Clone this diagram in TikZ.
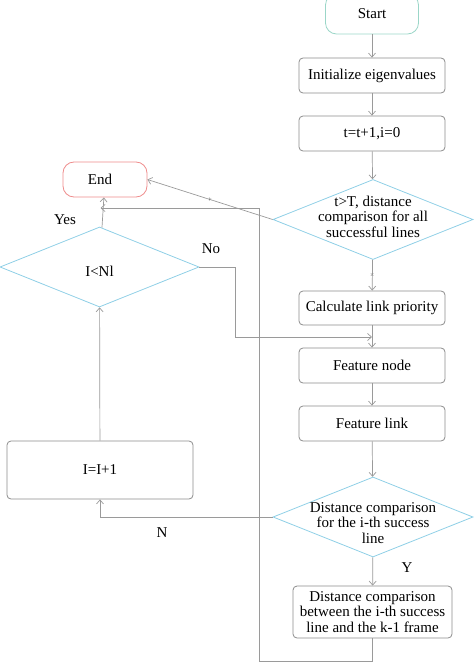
\documentclass[tikz,border=0pt]{standalone}
\usepackage{fontspec}
\setmainfont{Liberation Serif}
\usetikzlibrary{shapes.geometric,arrows.meta}
\definecolor{linegray}{HTML}{9A9A9A}
\definecolor{boxgray}{HTML}{8C8C8C}
\definecolor{diamblue}{HTML}{8FCFE6}
\definecolor{startteal}{HTML}{9BD6C8}
\definecolor{endred}{HTML}{EE8C8C}

\begin{document}
\begin{tikzpicture}[x=1pt, y=-1pt,
  every node/.style={font=\fontsize{15}{15.5}\selectfont},
  procbox/.style={draw=boxgray, line width=0.8pt, rounded corners=4pt,
    minimum width=146pt, minimum height=35pt, inner sep=0pt, align=center},
  termbox/.style={draw, line width=0.8pt, rounded corners=11pt, inner sep=0pt},
  decision/.style={diamond, draw=diamblue, line width=0.8pt, inner sep=0pt,
    minimum width=200pt, minimum height=80pt},
  flow/.style={draw=linegray, line width=0.7pt,
    -{Straight Barb[length=4pt,width=7pt]}},
  tinytag/.style={font=\fontsize{4}{4}\selectfont, text=black!70, inner sep=0pt}]
  \useasboundingbox (0,0) rectangle (474,663);

  % Right column: main flow
  \node[termbox, draw=startteal, minimum width=93pt, minimum height=40pt]
    (start) at (372,14) {Start};
  \node[procbox] (init) at (372,75.5) {Initialize eigenvalues};
  \node[procbox] (tt) at (372,133.5) {t=t+1,i=0};
  \node[decision, label={[yshift=3pt, align=center]center:{t>T, distance\\
    comparison for all\\successful lines}}] (d1) at (373,219.5) {};
  \node[procbox, minimum height=34pt] (calc) at (372,308) {Calculate link priority};
  \node[procbox] (fnode) at (372,365.5) {Feature node};
  \node[procbox] (flink) at (372,423.5) {Feature link};
  \node[decision, label={[yshift=-6pt, align=center]center:{Distance comparison\\
    for the i-th success\\line}}] (d2) at (373,517) {};
  \node[procbox, minimum width=159pt, minimum height=52pt] (last) at (372.5,612)
    {Distance comparison\\between the i-th success\\line and the k-1 frame};

  % Left column: loop over lines
  \node[termbox, draw=endred, minimum width=84pt, minimum height=35pt]
    (endn) at (105,179.5) {\hspace*{-10pt}End};
  \node[decision, minimum width=199pt, label={[yshift=-4pt]center:{I<Nl}}]
    (d3) at (99.5,267) {};
  \node[procbox, minimum width=186pt, minimum height=58pt] (inc) at (100,470) {I=I+1};

  % Helper points
  \coordinate (nojoin) at (372,337);
  \coordinate (loopcorner) at (259,661);
  \coordinate (backjoin) at (100.5,208);

  % Connectors
  \draw[flow] (start) -- (init);
  \draw[flow] (init) -- (tt);
  \draw[flow] (tt) -- (d1);
  \draw[flow] (d1) -- node[tinytag, rotate=90] {N} (calc);
  \draw[flow] (calc) -- (fnode);
  \draw[flow] (fnode) -- (flink);
  \draw[flow] (flink) -- (d2);
  \draw[flow] (d2) -- (last);
  \draw[flow] (d2.west) -| (inc.south);
  \draw[flow] (inc) -- (d3);
  \draw[flow] (d3) -- (endn);
  \draw[flow] (d3.east) -- ++(36,0) |- (nojoin);
  \draw[flow] (d1.west) -- node[tinytag, sloped] {Y} (endn.east);
  \draw[flow] (last.south) |- (loopcorner) |- (backjoin);

  % Branch labels
  \node (yes) at (65,220) {Yes};
  \node (no) at (211,249) {No};
  \node (nlab) at (162,533) {N};
  \node (ylab) at (407,568) {Y};
\end{tikzpicture}
\end{document}
